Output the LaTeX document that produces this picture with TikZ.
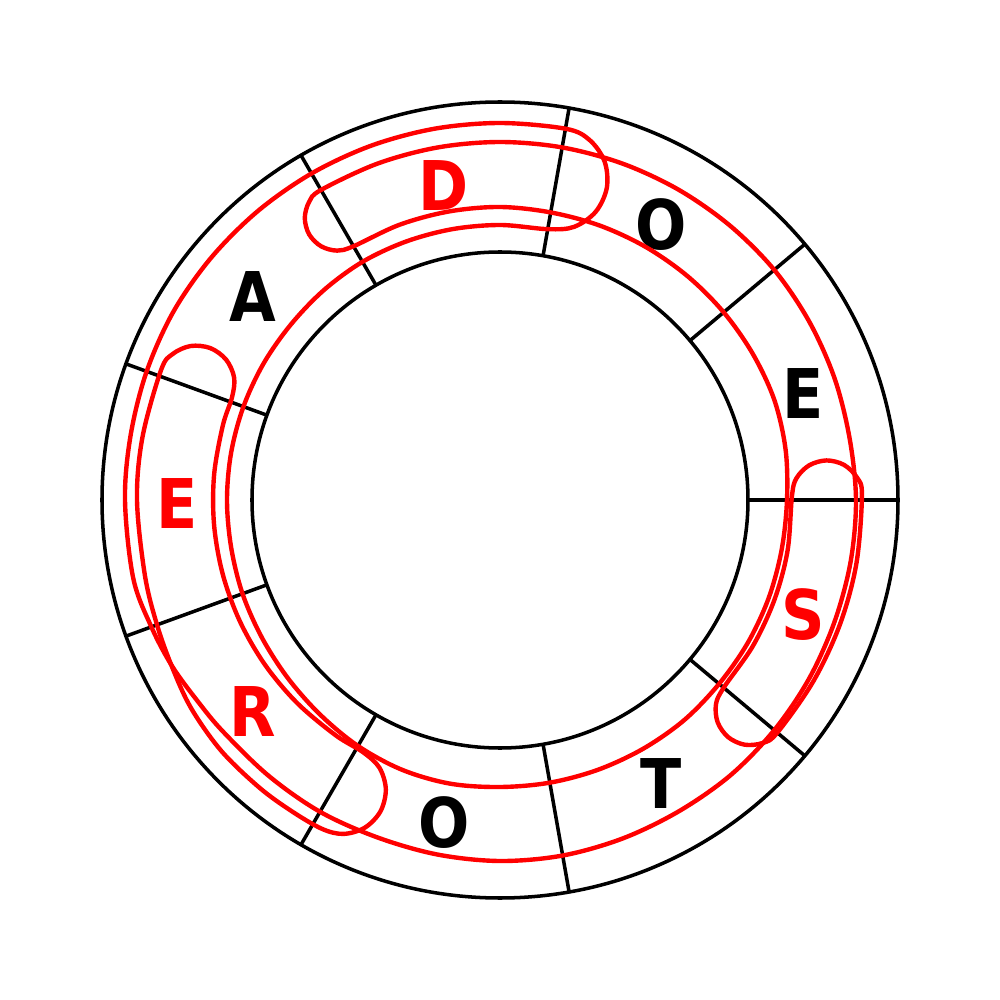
\documentclass[tikz,border=0pt]{standalone}
\usepackage{fontspec}
\newfontfamily\letterfont{DejaVu Sans}[FakeStretch=0.88]
\begin{document}
\begin{tikzpicture}[x=0.01cm,y=0.01cm,
  ringline/.style={black, line width=1pt},
  cord/.style={red, line width=1.25pt, line join=round},
  letterblack/.style={text=black, font=\letterfont\bfseries\fontsize{19.5}{19.5}\selectfont, inner sep=0pt, yshift=-0.4mm},
  letterred/.style={letterblack, text=red}]
\useasboundingbox (-500,-500) rectangle (500,500);
% ring
\draw[ringline] (0,0) circle[radius=398];
\draw[ringline] (0,0) circle[radius=248];
\foreach \a in {0,40,...,320} \draw[ringline] (\a:248) -- (\a:398);
% letters
\node[letterblack] (l1) at (20:323) {E};
\node[letterblack] (l2) at (60:323) {O};
\node[letterred]   (l3) at (100:323) {D};
\node[letterblack] (l4) at (140:323) {A};
\node[letterred]   (l5) at (180:323) {E};
\node[letterred]   (l6) at (220:323) {R};
\node[letterblack] (l7) at (260:323) {O};
\node[letterblack] (l8) at (300:323) {T};
\node[letterred]   (l9) at (340:323) {S};
% main cord (two strands hooked at D)
\draw[cord] plot[smooth cycle, tension=0.55] coordinates {
(80:275) (90:275) (100:275) (110:275) (120:275) (130:274) (140:273) (150:273) (160:273) (170:273) (180:273) (190:273) (200:274) (210:275) (220:277) (230:280) (240:284) (250:287) (260:288) (270:287) (280:287) (290:287) (300:287) (310:287) (320:286) (330:286) (340:286) (350:286) (360:287) (370:290) (380:292) (390:292) (400:292) (410:292) (420:292) (430:292) (440:292) (450:293) (460:293) (470:293) (480:293)
(483.13:297.8) (485.19:310.5) (485.70:327.1) (484.70:342.9) (482.63:354)
(480:358) (470:358) (460:358) (450:358) (440:358) (430:358) (420:358) (410:358) (400:358) (390:357) (380:356) (370:355) (360:356) (350:356) (340:356) (330:357) (320:358) (310:359) (300:359) (290:360) (280:361) (270:361) (260:360) (250:359) (240:360) (230:360) (220:361) (214:363) (207:367.5) (200:371) (192:375) (180:375) (170:375) (160:376) (150:377) (140:377) (130:377) (120:377) (110:377) (100:377) (90:377) (80:377)
(76.06:371.1) (72.83:354.3) (71.11:330) (71.63:303.7) (74.83:283)
};
% loop round E and R
\draw[cord] plot[smooth cycle, tension=0.55] coordinates {
(159:363) (170:363) (180:363) (192:363) (200:365) (207:368) (214:372.5) (222:375) (230:375) (236:374.5) (241.5:374)
(244.88:368.8) (247.60:354.3) (249.00:333.4) (248.46:311.0) (245.75:293.6)
(241.5:287) (235:287) (225:287) (215:287) (205:287) (195:287) (185:287) (175:287) (165:287) (159:287)
(155.28:292.7) (152.86:307.8) (152.33:327.2) (153.54:345.6) (155.96:358.4)
};
% loop round S
\draw[cord] plot[smooth cycle, tension=0.55] coordinates {
(320:362) (330:362) (340:362) (350:362) (360.8:362)
(363.6:357.7) (365.83:345.8) (366.91:328.9) (366.39:311) (364.18:297.2)
(360.8:292) (350:292) (340:292) (330:292) (320:292)
(316.62:297.2) (314.41:311) (313.89:328.9) (314.97:345.8) (317.20:357.7)
};
\end{tikzpicture}
\end{document}
